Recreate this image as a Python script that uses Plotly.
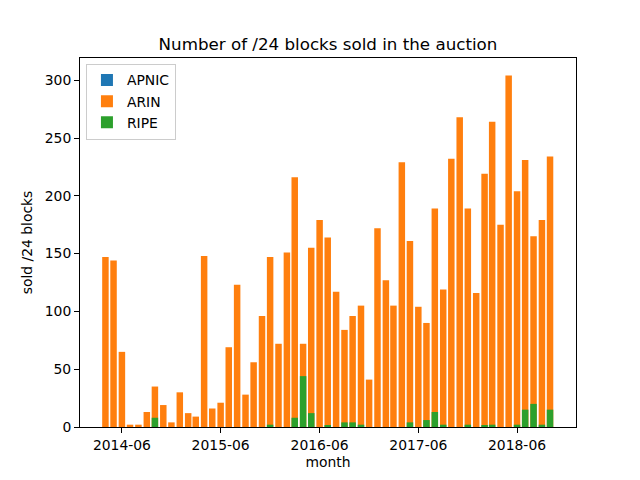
import plotly.graph_objects as go
import pandas as pd

months = pd.date_range("2014-04-01", "2018-10-01", freq="MS")

arin = [147, 144, 65, 2, 2, 13, 35, 19, 4, 30, 12, 9, 148, 16, 21, 69, 123, 28, 56, 96,
        147, 72, 151, 216, 72, 155, 179, 164, 117, 84, 96, 105, 41, 172, 127, 105, 229, 161,
        104, 90, 189, 119, 232, 268, 189, 116, 219, 264, 175, 304, 204, 231, 165, 179, 234]
ripe = [0, 0, 0, 0, 0, 0, 8, 0, 0, 0, 0, 0, 0, 0, 0, 0, 0, 0, 0, 0,
        2, 0, 0, 8, 44, 12, 0, 1, 0, 4, 4, 2, 0, 0, 0, 0, 0, 4,
        0, 6, 13, 2, 0, 0, 2, 0, 1, 2, 0, 0, 2, 15, 20, 2, 15]
apnic = [0] * len(months)

series = [("APNIC", apnic, "#1f77b4"), ("ARIN", arin, "#ff7f0e"), ("RIPE", ripe, "#2ca02c")]

width_ms = 24 * 86400000

fig = go.Figure()
for name, vals, color in series:
    fig.add_trace(go.Bar(x=months, y=vals, name=name, width=width_ms,
                         marker=dict(color=color, line=dict(width=0), opacity=1)))

font = "DejaVu Sans, sans-serif"
fs = 13.9
fig.update_layout(
    width=640, height=480,
    barmode="overlay",
    paper_bgcolor="white", plot_bgcolor="white",
    margin=dict(l=72, r=72, t=50, b=61),
    font=dict(family=font, size=fs, color="black"),
    title=dict(text="Number of /24 blocks sold in the auction", x=0.5, xref="paper",
               y=1 - 36 / 480, yref="container", yanchor="middle",
               font=dict(size=16.7, family=font, color="black")),
    legend=dict(x=0.012, y=0.985, xanchor="left", yanchor="top",
                bgcolor="rgba(255,255,255,0.8)", bordercolor="#cccccc", borderwidth=1,
                font=dict(size=fs, family=font), traceorder="normal", tracegroupgap=2),
    showlegend=True,
)
fig.update_xaxes(
    type="date", range=["2013-12-28", "2019-01-05"],
    tick0="2014-06-01", dtick="M12", tickformat="%Y-%m",
    ticks="outside", ticklen=5, tickcolor="black", tickwidth=1,
    showline=True, linecolor="black", linewidth=1, mirror=True,
    showgrid=False, zeroline=False,
    title=dict(text="month", font=dict(size=fs, family=font), standoff=5),
    tickfont=dict(size=fs, family=font),
)
fig.update_yaxes(
    range=[0, 319.2], tick0=0, dtick=50,
    ticks="outside", ticklen=5, tickcolor="black", tickwidth=1,
    showline=True, linecolor="black", linewidth=1, mirror=True,
    showgrid=False, zeroline=False,
    title=dict(text="sold /24 blocks", font=dict(size=fs, family=font), standoff=8),
    tickfont=dict(size=fs, family=font),
)

fig.write_html("out.html")
